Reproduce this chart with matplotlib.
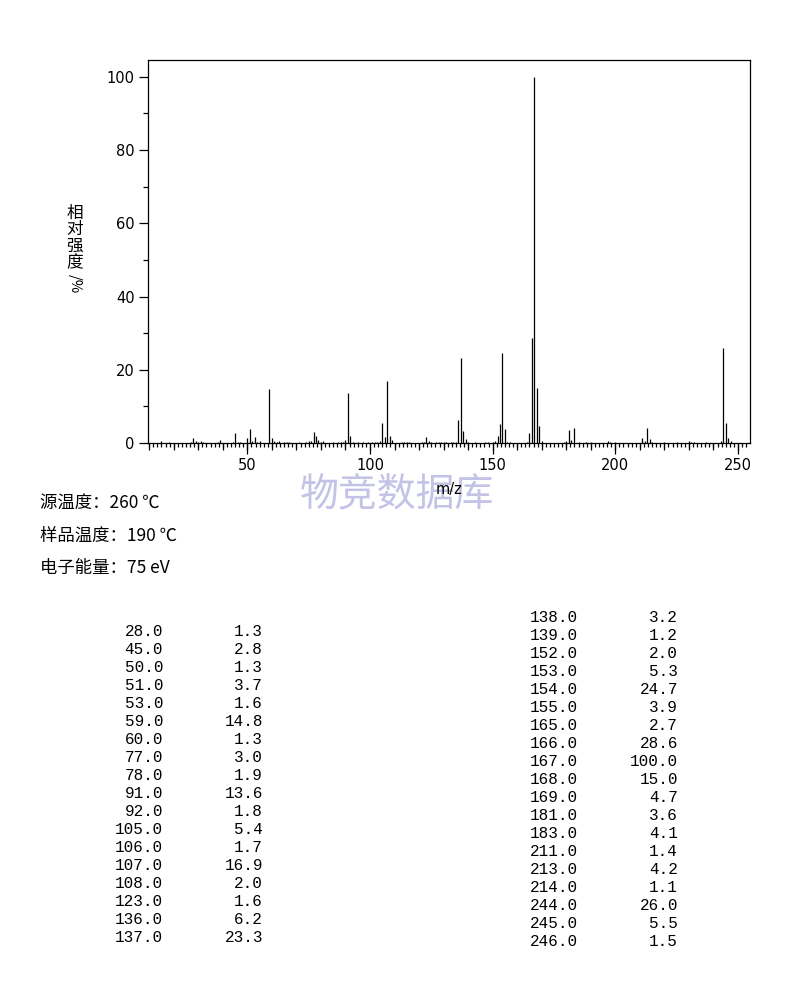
import matplotlib
matplotlib.use("Agg")
import matplotlib.pyplot as plt
from matplotlib.ticker import MultipleLocator, NullFormatter

# peaks listed in the table (m/z, relative intensity %)
mz_main = [28, 45, 50, 51, 53, 59, 60, 77, 78, 91, 92, 105, 106, 107, 108, 123,
           136, 137, 138, 139, 152, 153, 154, 155, 165, 166, 167, 168, 169,
           181, 183, 211, 213, 214, 244, 245, 246]
int_main = [1.3, 2.8, 1.3, 3.7, 1.6, 14.8, 1.3, 3.0, 1.9, 13.6, 1.8, 5.4, 1.7, 16.9,
            2.0, 1.6, 6.2, 23.3, 3.2, 1.2, 2.0, 5.3, 24.7, 3.9, 2.7, 28.6, 100.0,
            15.0, 4.7, 3.6, 4.1, 1.4, 4.2, 1.1, 26.0, 5.5, 1.5]

# small peaks (< 1 %)
mz_small = [15, 18, 27, 29, 30, 31, 32, 38, 39, 44, 46, 47, 52, 54, 55, 61, 62, 63,
            65, 66, 67, 71, 74, 75, 76, 79, 80, 81, 85, 87, 88, 89, 90, 93, 95, 97,
            99, 101, 102, 103, 104, 109, 113, 114, 115, 116, 121, 122, 124, 125, 127,
            128, 129, 130, 131, 133, 134, 135, 140, 143, 147, 148, 150, 151, 156, 157,
            164, 170, 179, 180, 182, 185, 188, 190, 197, 198, 200, 212, 215, 220, 225,
            230, 231, 232, 237, 243, 247]
int_small = [0.5, 0.3, 0.4, 0.5, 0.3, 0.5, 0.4, 0.3, 0.7, 0.3, 0.4, 0.3, 0.5, 0.4, 0.6,
             0.6, 0.4, 0.5, 0.4, 0.3, 0.3, 0.3, 0.4, 0.5, 0.6, 0.7, 0.3, 0.5, 0.3, 0.3,
             0.3, 0.4, 0.8, 0.3, 0.3, 0.3, 0.3, 0.3, 0.3, 0.4, 0.5, 0.8, 0.3, 0.3, 0.3,
             0.3, 0.3, 0.4, 0.6, 0.4, 0.3, 0.4, 0.3, 0.4, 0.3, 0.3, 0.3, 0.3, 0.3, 0.3,
             0.3, 0.3, 0.3, 0.5, 0.3, 0.3, 0.3, 0.5, 0.3, 0.6, 0.9, 0.3, 0.3, 0.3, 0.6,
             0.3, 0.3, 0.5, 0.3, 0.3, 0.3, 0.5, 0.3, 0.3, 0.3, 0.5, 0.5]

x_ticks = [50, 100, 150, 200, 250]
y_ticks = [0, 20, 40, 60, 80, 100]

info_lines = ["源温度：260 ℃", "样品温度：190 ℃", "电子能量：75 eV"]

W, H = 794, 992


def px(x, y):
    return x / W, 1 - y / H


fig = plt.figure(figsize=(W / 100, H / 100), dpi=100)
ax = fig.add_axes([148 / W, 1 - 443 / H, (750 - 148) / W, (443 - 60) / H])

ax.vlines(mz_small + mz_main, 0, int_small + int_main, colors="black", linewidth=0.9)
ax.set_xlim(9.5, 254.9)
ax.set_ylim(0, 104.6)

for s in ax.spines.values():
    s.set_linewidth(0.9)

ax.set_xticks(x_ticks)
ax.xaxis.set_minor_locator(MultipleLocator(10 / 6))
ax.set_yticks(y_ticks)
ax.yaxis.set_minor_locator(MultipleLocator(10))
ax.tick_params(axis="x", which="major", length=8, width=0.9, pad=3, labelsize=10.5)
ax.tick_params(axis="x", which="minor", length=3, width=0.9)
ax.tick_params(axis="y", which="major", length=6.5, width=0.9, pad=3, labelsize=10.5)
ax.tick_params(axis="y", which="minor", length=3.5, width=0.9)

# medium ticks every 10
sec = ax.secondary_xaxis("bottom")
sec.set_xticks(range(10, 260, 10))
sec.xaxis.set_major_formatter(NullFormatter())
sec.tick_params(length=5, width=0.9)
sec.spines["bottom"].set_visible(False)

# watermark
fig.text(*px(397, 495), "物竞数据库", fontsize=28, color="#c3c3e6",
         family=["Noto Sans CJK SC"], ha="center", va="center", zorder=0)

# x label sits on top of the watermark, as in the original
fig.text(*px(449, 490), "m/z", fontsize=10.5, ha="center", va="center", zorder=5)

# vertical y label
fig.text(*px(75, 238), "相\n对\n强\n度", fontsize=12, family=["Noto Sans CJK SC"],
         ha="center", va="center", linespacing=0.95)
fig.text(*px(75, 284), "/%", fontsize=10.5, rotation=270, ha="center", va="center",
         family=["Noto Sans CJK SC", "DejaVu Sans"])

for i, line in enumerate(info_lines):
    fig.text(*px(40, 504 + 32 * i), line, fontsize=12.5,
             family=["Noto Sans CJK SC", "DejaVu Sans"], ha="left", va="center")

# peak table
mono = "Liberation Mono"
n_left = 18
for i, (m, v) in enumerate(zip(mz_main, int_main)):
    if i < n_left:
        y = 632 + 18 * i
        xm, xv = 163, 263
    else:
        y = 617 + 18 * (i - n_left)
        xm, xv = 578, 678
    fig.text(*px(xm, y), f"{m:.1f}", family=mono, fontsize=11.5, ha="right", va="center")
    fig.text(*px(xv, y), f"{v:.1f}", family=mono, fontsize=11.5, ha="right", va="center")

fig.savefig("out.png", dpi=100)
